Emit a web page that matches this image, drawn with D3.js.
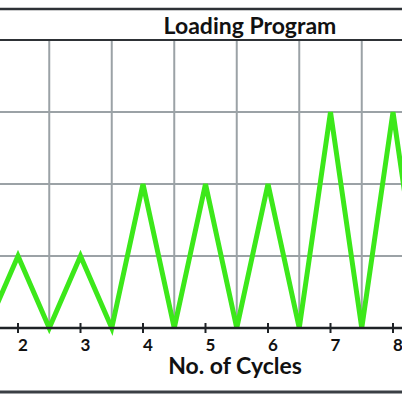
<!DOCTYPE html>
<html><head><meta charset="utf-8">
<script src="https://cdn.jsdelivr.net/npm/d3@7"></script>
<style>html,body{margin:0;padding:0;background:#fff;}svg{display:block;}</style>
</head><body>
<script>
const title = "Loading Program";
const xTitle = "No. of Cycles";
const cycles = [1.5, 2, 2.5, 3, 3.5, 4, 4.5, 5, 5.5, 6, 6.5, 7, 7.5, 8, 8.5];
const load = [0, 1, 0, 1, 0, 2, 0, 2, 0, 2, 0, 3, 0, 3, 0];
const xTicks = [2, 3, 4, 5, 6, 7, 8];
const xGrid = [1.5, 2.5, 3.5, 4.5, 5.5, 6.5, 7.5, 8.5];
const yGrid = [1, 2, 3];

const W = 402, H = 402;
const svg = d3.select("body").append("svg").attr("width", W).attr("height", H);
const x = d3.scaleLinear().domain([2, 8]).range([18, 393]);
const y = d3.scaleLinear().domain([0, 4]).range([328, 40]);
const font = "Lato, 'Open Sans', sans-serif";

// outer frame lines
svg.append("line").attr("x1", 0).attr("x2", W).attr("y1", 9).attr("y2", 9)
  .attr("stroke", "#2e3236").attr("stroke-width", 2.5);
svg.append("line").attr("x1", 0).attr("x2", W).attr("y1", 392).attr("y2", 392)
  .attr("stroke", "#3a3f44").attr("stroke-width", 3);

// title
svg.append("text").attr("x", 250).attr("y", 34).attr("text-anchor", "middle")
  .attr("font-family", font).attr("font-weight", "bold")
  .attr("font-size", 23).attr("fill", "#111").text(title);

// grid
svg.append("g").selectAll("line").data(xGrid).join("line")
  .attr("x1", d => x(d)).attr("x2", d => x(d)).attr("y1", y(4)).attr("y2", y(0))
  .attr("stroke", "#9ba2a6").attr("stroke-width", 2);
svg.append("g").selectAll("line").data(yGrid).join("line")
  .attr("x1", 0).attr("x2", W).attr("y1", d => y(d)).attr("y2", d => y(d))
  .attr("stroke", "#9ba2a6").attr("stroke-width", 2);
// top plot border
svg.append("line").attr("x1", 0).attr("x2", W).attr("y1", y(4)).attr("y2", y(4))
  .attr("stroke", "#2e3236").attr("stroke-width", 2);

// data line
const line = d3.line().x((d, i) => x(cycles[i])).y(d => y(d));
svg.append("path").datum(load).attr("d", line).attr("fill", "none")
  .attr("stroke", "#3ce81a").attr("stroke-width", 5).attr("stroke-linejoin", "miter");

// x axis
svg.append("line").attr("x1", 0).attr("x2", W).attr("y1", y(0)).attr("y2", y(0))
  .attr("stroke", "#1e2226").attr("stroke-width", 2.5);
svg.append("g").selectAll("line").data(xTicks).join("line")
  .attr("x1", d => x(d)).attr("x2", d => x(d)).attr("y1", y(0) - 5).attr("y2", y(0) + 5)
  .attr("stroke", "#1e2226").attr("stroke-width", 2);
svg.append("g").selectAll("text").data(xTicks).join("text")
  .attr("x", d => x(d) + 5).attr("y", 351).attr("text-anchor", "middle")
  .attr("font-family", font).attr("font-weight", "bold")
  .attr("font-size", 17).attr("fill", "#111").text(d => d);

svg.append("text").attr("x", 235).attr("y", 374).attr("text-anchor", "middle")
  .attr("font-family", font).attr("font-weight", "bold")
  .attr("font-size", 23).attr("fill", "#111").text(xTitle);
</script>
</body></html>
